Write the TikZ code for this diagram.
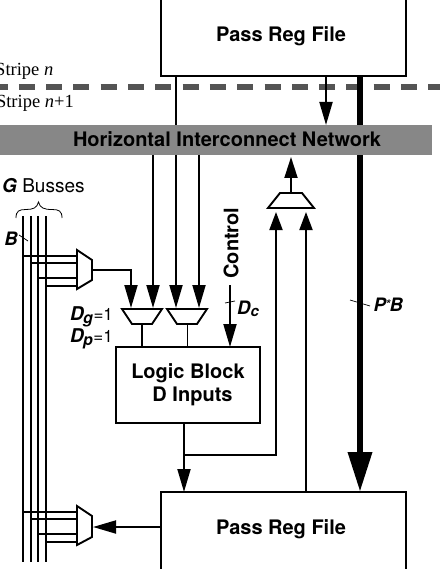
\documentclass[tikz,border=0pt]{standalone}
\usepackage{fontspec}
\setmainfont{TeX Gyre Heros}
\newfontfamily\serifface{Liberation Serif}
\usetikzlibrary{arrows.meta,calc}
\tikzset{
  wire/.style={line width=1.9pt,line cap=butt,line join=miter},
  bus/.style={line width=1.7pt},
  arr/.style={wire,-{Triangle[length=23pt,width=13pt,sep=0pt]}},
  regbox/.style={draw,line width=2pt,minimum width=245pt,inner sep=0pt,outer sep=0pt,fill=white},
  logicbox/.style={draw,line width=2pt,minimum width=144pt,minimum height=76pt,inner sep=0pt,outer sep=0pt},
  mux/.style={wire,fill=white},
  tick/.style={line width=0.7pt},
  lab/.style={font=\bfseries\itshape\fontsize{18.5}{18}\selectfont,inner sep=0pt},
  stripe/.style={font=\serifface\fontsize{18.5}{20}\selectfont,inner sep=0pt,anchor=east},
  txtnode/.style={font=\bfseries\fontsize{20}{22}\selectfont,inner sep=0pt}
}
\begin{document}
\begin{tikzpicture}[x=1pt,y=-1pt]
\useasboundingbox (0,0) rectangle (440,569);
\clip (0,0) rectangle (440,569);
\fill[white] (0,0) rectangle (440,569);
% main blocks
\node[regbox,minimum height=82pt,anchor=south west] (top) at (161,76) {};
\node[txtnode] (toptext) at (281,36.5) {Pass Reg File};
\node[regbox,minimum height=90pt,anchor=north west] (bot) at (161,492) {};
\node[txtnode] (bottext) at (281,529.5) {Pass Reg File};
\node[logicbox,anchor=north west] (logic) at (116,347) {};
\node[txtnode] (logict) at (188,373) {Logic Block};
\node[txtnode] (logicu) at (192.5,396) {D Inputs};
% stripe
\draw[line width=6pt,color=black!67,dash pattern=on 16pt off 11.3pt,dash phase=8.5pt] (0,87) -- (440,87);
\node[stripe] (s1) at (53.5,71.5) {Stripe \textit{n}};
\node[stripe] (s2) at (74,103) {Stripe \textit{n}+1};
% coordinates
\coordinate (t1) at (176,76);
\coordinate (t2) at (326,76);
\coordinate (t3) at (360,76);
% lines behind bar
\draw[wire] (t1) -- (176,130);
\draw[line width=6.5pt,-{Triangle[length=40pt,width=23pt,sep=0pt]}] (t3) -- (360,492);
% bar
\node[fill=black!47,minimum width=432pt,minimum height=30pt,inner sep=0pt,outer sep=0pt,anchor=north west] (bar) at (0,125) {};
\node[txtnode] (bartext) at (227,139) {Horizontal Interconnect Network};
\draw[arr] (t2) -- (326,125);
% muxes
\coordinate (m1) at (142,324);
\coordinate (m2) at (187.5,324);
\draw[mux] (122,309) -- (162,309) -- (152,324) -- (132,324) -- cycle;
\draw[mux] (167,309) -- (207,309) -- (197,324) -- (177,324) -- cycle;
\draw[wire] (m1) -- (m1 |- logic.north);
\draw[wire] (m2) -- (m2 |- logic.north);
\draw[arr] (153,155) -- (153,308);
\draw[arr] (176,155) -- (176,308);
\draw[arr] (199,155) -- (199,308);
% control
\node[txtnode,rotate=90] (ctrl) at (231,243) {Control};
\coordinate (dctop) at (230,285);
\draw[arr] (dctop) -- (dctop |- logic.north);
\draw[tick] (225,303) -- (235,301);
\node[lab,anchor=west] (dc) at (237,309) {D\textsubscript{\fontsize{15}{15}\selectfont c}};
% upper mux
\draw[mux] (280,193) -- (302,193) -- (314,208) -- (268,208) -- cycle;
\draw[wire,-{Triangle[length=21pt,width=13pt,sep=0pt]}] (291,193) -- (291,157);
\draw[wire,-{Triangle[length=18pt,width=13pt,sep=0pt]}] (306,492) -- (306,212);
\draw[wire,-{Triangle[length=18pt,width=13pt,sep=0pt]}] (184,455) -- (276,455) -- (276,212);
\draw[arr] (logic.south -| 184,0) -- (bot.north -| 184,0);
% tick P*B
\draw[tick] (350,300) -- (370,306);
\node[lab,anchor=west] (pb) at (373.5,305) {P\hspace{-0.5pt}\raisebox{3pt}{\fontsize{12}{12}\selectfont *}\hspace{-0.5pt}B};
% bus
\foreach \x in {23,31,38,46} \draw[bus] (\x,216) -- (\x,562);
\draw[line width=0.8pt] (16,218) .. controls (16,211) and (19,209.5) .. (26,209.5) .. controls (33,209.5) and (37,208) .. (38.5,202) .. controls (40,208) and (44,209.5) .. (52,209.5) .. controls (59,209.5) and (62,211) .. (62,218);
\node[anchor=west,inner sep=0pt,font=\fontsize{19}{21}\selectfont] (gb) at (2,186) {\textbf{\textit{G}} Busses};
\node[lab] (b) at (11,239) {B};
\draw[tick] (19,235) -- (28,241);
% left mux upper
\draw[bus] (23,256) -- (78,256);
\draw[bus] (31,263) -- (78,263);
\draw[bus] (38,278) -- (78,278);
\draw[bus] (46,286) -- (78,286);
\draw[mux] (77,250) -- (92,260) -- (92,280) -- (77,289) -- cycle;
\draw[arr] (92,270) -- (131,270) -- (131,308);
% left mux lower
\draw[bus] (23,512) -- (78,512);
\draw[bus] (31,519) -- (78,519);
\draw[bus] (38,534) -- (78,534);
\draw[bus] (46,542) -- (78,542);
\draw[mux] (77,506) -- (92,516) -- (92,537) -- (77,545) -- cycle;
\coordinate (lm) at (93,527);
\draw[arr] (bot.west |- lm) -- (lm);
% Dg Dp
\node[anchor=west,inner sep=0pt] (dg) at (70,317) {\fontsize{19}{18}\selectfont\textbf{\textit{D}}\hspace{-1pt}\textsubscript{\textbf{\textit{\fontsize{16}{15}\selectfont g}}}\fontsize{17}{18}\selectfont=1};
\node[anchor=west,inner sep=0pt] (dp) at (70,339) {\fontsize{19}{18}\selectfont\textbf{\textit{D}}\hspace{-1pt}\textsubscript{\textbf{\textit{\fontsize{16}{15}\selectfont p}}}\fontsize{17}{18}\selectfont=1};
\end{tikzpicture}
\end{document}
